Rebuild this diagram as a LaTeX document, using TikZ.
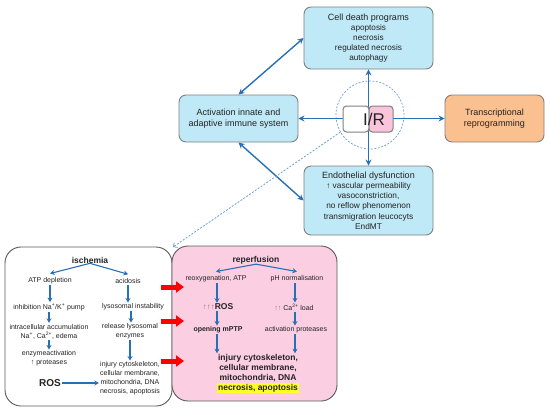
\documentclass[tikz,border=0pt]{standalone}
\usepackage{fontspec}
\setmainfont{Liberation Sans}
\usetikzlibrary{arrows.meta,calc}
\definecolor{arrblue}{RGB}{40,112,180}
\definecolor{dashblue}{RGB}{110,160,215}
\definecolor{lightblue}{RGB}{191,233,247}
\definecolor{orangefill}{RGB}{251,192,143}
\definecolor{reppink}{RGB}{251,206,226}
\definecolor{irpink}{RGB}{249,196,220}
\definecolor{boxgray}{RGB}{128,128,128}
\definecolor{dgray}{RGB}{90,90,90}
\definecolor{txt}{RGB}{35,35,35}
\definecolor{hl}{RGB}{255,255,40}
\definecolor{upgray}{RGB}{140,120,130}
\begin{document}
\begin{tikzpicture}[x=1pt,y=-1pt,
  topbox/.style={draw=boxgray, line width=0.9pt, rounded corners=7pt, align=center, inner sep=1pt, text=txt},
  bigarr/.style={draw=arrblue, line width=1.4pt, {Stealth[length=6pt,width=6pt]}-{Stealth[length=6pt,width=6pt]}},
  blarrow/.style={draw=arrblue, line width=1.1pt, -{Stealth[length=4.5pt,width=5pt]}},
  small/.style={font=\fontsize{7}{9}\selectfont, text=txt, inner sep=1pt, align=center},
  redarr/.style={draw=red, line width=5pt, -{Triangle[length=8pt,width=11pt]}},
  bigbox/.style={draw=dgray, line width=0.9pt, rounded corners=16pt},
  irbox/.style={draw=boxgray, line width=1pt, rounded corners=3.5pt}
]
\useasboundingbox (0,0) rectangle (550,408);

% top nodes
\node[topbox, fill=lightblue, minimum width=129pt, minimum height=62pt,
      font=\fontsize{8.2}{10}\selectfont] (cd) at (368.5,38)
  {{\fontsize{9}{10}\selectfont Cell death programs}\\apoptosis\\necrosis\\regulated necrosis\\autophagy};
\node[topbox, fill=lightblue, minimum width=119pt, minimum height=47pt, font=\fontsize{9}{11}\selectfont] (act) at (238.5,118.5)
  {Activation innate and\\adaptive immune system};
\node[topbox, fill=orangefill, minimum width=99pt, minimum height=47pt, font=\fontsize{9}{11}\selectfont] (tr) at (494.5,118.5)
  {Transcriptional\\reprogramming};
\node[topbox, fill=lightblue, minimum width=129pt, minimum height=69pt,
      font=\fontsize{8.3}{10.2}\selectfont] (endo) at (368.5,200.5)
  {{\fontsize{9}{10.2}\selectfont Endothelial dysfunction}\\↑ vascular permeability\\vasoconstriction,\\no reflow phenomenon\\transmigration leucocyts\\EndMT};

% I/R
\node[draw=dashblue, dashed, dash pattern=on 2pt off 1.5pt, line width=0.7pt, circle, minimum size=68pt] (irc) at (370,115) {};
\draw[bigarr] (act.east) -- (tr.west);
\draw[bigarr] (cd.south) -- (endo.north);
\node[irbox, fill=white, minimum width=26pt, minimum height=26pt] (irw) at (356,119) {};
\node[irbox, fill=irpink, minimum width=24pt, minimum height=26pt] (irp) at (381,119) {};
\node[font=\fontsize{17}{17}\selectfont, text=txt, inner sep=0pt] (irt) at (374,119) {I/R};

\draw[bigarr] (act.north) -- (cd.west);
\draw[bigarr] (act.south) -- (endo.west);

\coordinate (dend) at (173,247);
\draw[draw=dashblue, line width=0.8pt, dash pattern=on 2pt off 1.5pt, -{Straight Barb[length=3pt,width=6pt]}] (irc.210) -- (dend);

% bottom boxes
\node[bigbox, fill=white, minimum width=167pt, minimum height=159pt] (ischbox) at (88.5,326.5) {};
\node[bigbox, fill=reppink, minimum width=165pt, minimum height=155pt] (repbox) at (254.5,323.5) {};

% ischemia texts
\node[small, font=\fontsize{8.5}{10}\selectfont\bfseries] (isch) at (90,260) {ischemia};
\node[small] (atp) at (50,281) {ATP depletion};
\node[small] (acid) at (128,281) {acidosis};
\node[small] (inhib) at (49,307) {inhibition Na\textsuperscript{+}/K\textsuperscript{+} pump};
\node[small] (lyso) at (133,307) {lysosomal instability};
\node[small] (accum) at (49,331.5) {intracellular accumulation\\Na\textsuperscript{+}, Ca\textsuperscript{2+}, edema};
\node[small] (release) at (130,331.5) {release lysosomal\\enzymes};
\node[small] (enzact) at (49,358.5) {enzymeactivation\\↑ proteases};
\node[small, font=\fontsize{10}{11}\selectfont\bfseries] (ros1) at (50,383) {ROS};
\node[small] (inj1) at (130,378.5) {injury cytoskeleton,\\cellular membrane,\\mitochondria, DNA\\necrosis, apoptosis};

\draw[blarrow] ($(isch.south)+(0,-1)$) -- ($(atp.north)+(0,-3)$);
\draw[blarrow] ($(isch.south)+(0,-1)$) -- ($(acid.north)+(0,-3)$);
\draw[blarrow] (atp.south) -- (atp.south |- inhib.north);
\draw[blarrow] (inhib.south) -- (inhib.south |- accum.north);
\draw[blarrow] (accum.south) -- (accum.south |- enzact.north);
\draw[blarrow] (acid.south) -- (acid.south |- lyso.north);
\draw[blarrow] ($(lyso.south)+(-2,0)$) -- ($(lyso.south |- release.north)+(-2,0)$);
\draw[blarrow] (release.south) -- (release.south |- inj1.north);
\draw[blarrow] (ros1.east) -- (ros1.east -| inj1.west);

% reperfusion texts
\node[small, font=\fontsize{8.5}{10}\selectfont\bfseries] (rep) at (256,260) {reperfusion};
\node[small] (reox) at (216,279) {reoxygenation, ATP};
\node[small] (ph) at (297,279) {pH normalisation};
\node[small] (ros2) at (218,307) {{\fontsize{8}{9}\selectfont\color{upgray}↑↑↑}{\fontsize{8.5}{10}\selectfont\bfseries ROS}};
\node[small] (ca) at (294,307) {{\color{upgray}↑↑} Ca\textsuperscript{2+} load};
\node[small, font=\fontsize{7}{9}\selectfont\bfseries] (mptp) at (218,330) {opening mPTP};
\node[small] (actp) at (296,330) {activation proteases};
\node[small, font=\fontsize{8.5}{9.8}\selectfont\bfseries] (inj2) at (258,373.5)
  {injury cytoskeleton,\\cellular membrane,\\mitochondria, DNA\\{\setlength{\fboxsep}{0.8pt}\colorbox{hl}{necrosis, apoptosis}}};

\draw[blarrow] ($(rep.south)+(0,-1)$) -- ($(reox.north)+(0,-3)$);
\draw[blarrow] ($(rep.south)+(0,-1)$) -- ($(ph.north)+(0,-3)$);
\draw[blarrow] (reox.south -| 217,0) -- (ros2.north -| 217,0);
\draw[blarrow] (ros2.south -| 217,0) -- (mptp.north -| 217,0);
\draw[blarrow] (mptp.south -| 217,0) -- (inj2.north -| 217,0);
\draw[blarrow] (ph.south -| 295,0) -- (ca.north -| 295,0);
\draw[blarrow] (ca.south -| 295,0) -- (actp.north -| 295,0);
\draw[blarrow] (actp.south -| 295,0) -- (inj2.north -| 295,0);

% red arrows
\coordinate (r1s) at (161,287); \coordinate (r1e) at (184,287);
\coordinate (r2s) at (161,321); \coordinate (r2e) at (184,321);
\coordinate (r3s) at (161,361); \coordinate (r3e) at (184,361);
\draw[redarr] (r1s) -- (r1e);
\draw[redarr] (r2s) -- (r2e);
\draw[redarr] (r3s) -- (r3e);
\end{tikzpicture}
\end{document}
